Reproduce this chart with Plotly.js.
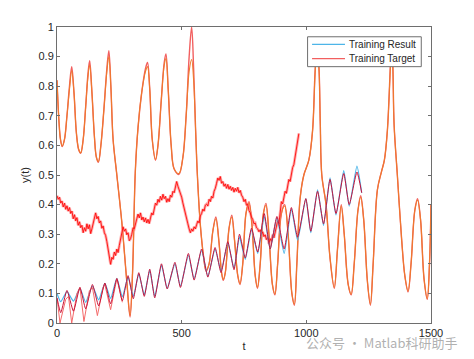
<!DOCTYPE html>
<html>
<head>
<meta charset="utf-8">
<script src="https://cdn.plot.ly/plotly-3.0.1.min.js"></script>
<style>
  html, body { margin: 0; padding: 0; background: #fff; }
  #chart { width: 474px; height: 359px; }
</style>
</head>
<body>
<div id="chart"></div>
<script>
// ---------------- DATA ----------------
const seriesNames = ['Training Result', 'Training Target'];

// Large oscillating series (target and result)
const bigTime = [0,8,14,21,30,40,50,59,68,78,87,95,105,115,124,131,140,150,158,166,176,188,200,208,216,225,240,260,280,293,303,314,325,340,355,363,372,382,395,405,418,430,437,446,458,470,489,505,518,530,540,548,556,563,575,587,598,610,625,637,650,660,667,675,690,701,712,725,734,745,758,770,782,795,804,815,828,838,850,864,874,885,900,913,927,942,952,962,975,990,1010,1025,1035,1043,1051,1056,1062,1079,1095,1112,1125,1140,1152,1168,1180,1192,1207,1218,1230,1245,1257,1268,1285,1301,1313,1325,1337,1342,1347,1352,1365,1382,1395,1408,1420,1435,1446,1458,1472,1485,1494,1500];
const bigTarget = [0.82,0.68,0.62,0.596,0.62,0.70,0.80,0.866,0.78,0.64,0.585,0.573,0.62,0.73,0.84,0.886,0.78,0.63,0.56,0.543,0.60,0.72,0.86,0.92,0.80,0.62,0.50,0.34,0.14,0.02,0.17,0.51,0.66,0.78,0.86,0.88,0.79,0.62,0.55,0.60,0.75,0.88,0.909,0.79,0.60,0.52,0.502,0.56,0.70,0.90,1.0,0.86,0.65,0.50,0.33,0.23,0.175,0.20,0.31,0.358,0.27,0.17,0.144,0.17,0.32,0.364,0.28,0.16,0.13,0.20,0.37,0.41,0.33,0.16,0.117,0.20,0.37,0.404,0.30,0.13,0.095,0.20,0.37,0.40,0.30,0.10,0.06,0.20,0.42,0.50,0.55,0.65,0.85,0.96,0.86,0.67,0.50,0.40,0.22,0.117,0.25,0.40,0.30,0.13,0.095,0.20,0.38,0.43,0.35,0.14,0.06,0.20,0.45,0.51,0.55,0.65,0.87,0.96,0.87,0.67,0.50,0.285,0.16,0.105,0.20,0.38,0.42,0.35,0.15,0.08,0.20,0.40];
const bigResult = [0.82,0.68,0.62,0.598,0.62,0.70,0.79,0.852,0.78,0.64,0.587,0.575,0.62,0.73,0.83,0.872,0.78,0.63,0.56,0.546,0.60,0.72,0.85,0.90,0.80,0.62,0.50,0.34,0.14,0.025,0.17,0.51,0.66,0.78,0.85,0.866,0.79,0.62,0.552,0.60,0.75,0.87,0.893,0.79,0.60,0.52,0.505,0.56,0.70,0.85,0.89,0.82,0.65,0.50,0.33,0.23,0.178,0.20,0.31,0.352,0.27,0.17,0.147,0.17,0.32,0.358,0.28,0.16,0.133,0.20,0.37,0.405,0.33,0.16,0.12,0.20,0.37,0.398,0.30,0.13,0.098,0.20,0.37,0.395,0.30,0.10,0.064,0.20,0.42,0.50,0.55,0.65,0.84,0.93,0.85,0.67,0.50,0.40,0.22,0.12,0.25,0.395,0.30,0.13,0.098,0.20,0.38,0.425,0.35,0.14,0.064,0.20,0.45,0.51,0.55,0.65,0.86,0.93,0.86,0.67,0.50,0.285,0.16,0.108,0.20,0.38,0.415,0.35,0.15,0.083,0.20,0.40];

// Noisy series, sampled every 5 time units from t = 0
const noisyStart = 0;
const noisyStep = 5;
const noisyValues = [0.43,0.418,0.425,0.405,0.412,0.392,0.405,0.384,0.396,0.378,0.39,0.37,0.378,0.352,0.366,0.345,0.356,0.33,0.342,0.322,
0.33,0.305,0.322,0.31,0.335,0.318,0.332,0.302,0.318,0.34,0.36,0.372,0.352,0.36,0.338,0.345,0.32,0.328,0.305,0.296,
0.275,0.252,0.225,0.198,0.222,0.215,0.24,0.228,0.25,0.238,0.262,0.285,0.305,0.325,0.31,0.318,0.298,0.305,0.278,0.285,
0.3,0.322,0.318,0.34,0.352,0.368,0.355,0.372,0.348,0.358,0.342,0.355,0.338,0.35,0.336,0.355,0.372,0.365,0.392,0.405,
0.398,0.418,0.408,0.428,0.415,0.435,0.42,0.428,0.408,0.42,0.41,0.432,0.425,0.445,0.44,0.462,0.478,0.462,0.45,0.438,
0.425,0.405,0.385,0.365,0.348,0.335,0.318,0.305,0.318,0.31,0.325,0.318,0.332,0.345,0.338,0.362,0.37,0.385,0.378,0.398,
0.402,0.395,0.418,0.41,0.428,0.422,0.445,0.455,0.472,0.49,0.482,0.495,0.472,0.478,0.462,0.47,0.455,0.468,0.452,0.462,
0.448,0.458,0.442,0.455,0.445,0.458,0.44,0.448,0.432,0.425,0.41,0.418,0.398,0.402,0.38,0.372,0.358,0.35,0.335,0.338,
0.322,0.318,0.308,0.315,0.3,0.308,0.292,0.298,0.282,0.29,0.268,0.285,0.275,0.298,0.288,0.31,0.322,0.345,0.335,0.385,
0.41,0.402,0.43,0.445,0.438,0.47,0.485,0.478,0.51,0.525,0.535,0.56,0.575,0.61,0.64];

// Lower rising zig-zag series
const lowTime = [0,15,40,66,92,115,142,167,192,215,240,262,285,306,328,350,372,392,419,442,473,495,527,550,580,605,634,658,685,710,732,755,780,805,831,855,882,911,940,965,998,1018,1045,1069,1095,1119,1150,1172,1203,1222];
const lowResult = [0.10,0.072,0.106,0.074,0.117,0.07,0.125,0.078,0.134,0.083,0.151,0.089,0.155,0.09,0.166,0.095,0.178,0.09,0.195,0.118,0.20,0.125,0.228,0.15,0.245,0.158,0.25,0.175,0.27,0.185,0.29,0.215,0.315,0.235,0.36,0.25,0.355,0.235,0.385,0.28,0.42,0.305,0.45,0.33,0.49,0.365,0.515,0.395,0.53,0.44];
const lowTarget = [0.085,0.035,0.11,0.04,0.12,0.048,0.13,0.058,0.135,0.065,0.15,0.075,0.16,0.082,0.17,0.09,0.182,0.085,0.20,0.115,0.205,0.12,0.235,0.145,0.25,0.155,0.255,0.17,0.275,0.18,0.30,0.22,0.32,0.24,0.37,0.25,0.36,0.25,0.39,0.29,0.42,0.31,0.445,0.335,0.485,0.37,0.505,0.40,0.51,0.44];

// Early pale series with deep dips
const altTime = [0,12,35,46,59,80,92,108,130,142,162,185,192,215,240,262];
const altValues = [0.085,0.0,0.08,0.09,0.0,0.10,0.12,0.005,0.11,0.12,0.025,0.12,0.13,0.045,0.15,0.07];

const xTicks = [0, 500, 1000, 1500];
const yTicks = [0, 0.1, 0.2, 0.3, 0.4, 0.5, 0.6, 0.7, 0.8, 0.9, 1];
const yTickText = ['0','0.1','0.2','0.3','0.4','0.5','0.6','0.7','0.8','0.9','1'];

// ---------------- STYLES ----------------
const colResult = '#4DB5E8';
const colTarget = '#F25F5F';
const colOrange = '#EE7A2C';
const fontFam = 'Liberation Sans, Arial, sans-serif';
const axisGray = '#6e6e6e';

// ---------------- TRACES ----------------
const traces = [
  { x: bigTime, y: bigTarget, type: 'scatter', mode: 'lines', name: seriesNames[1],
    line: { color: colTarget, width: 1.4, shape: 'spline' } },
  { x: bigTime, y: bigResult, type: 'scatter', mode: 'lines',
    line: { color: colOrange, width: 1.1, shape: 'spline' } },
  { x0: noisyStart, dx: noisyStep, y: noisyValues, type: 'scatter', mode: 'lines',
    line: { color: 'rgba(255,110,110,0.55)', width: 2.8 } },
  { x0: noisyStart, dx: noisyStep, y: noisyValues, type: 'scatter', mode: 'lines',
    line: { color: '#FF0A0A', width: 0.9 } },
  { x: lowTime, y: lowResult, type: 'scatter', mode: 'lines', name: seriesNames[0],
    line: { color: colResult, width: 1.2, shape: 'spline', smoothing: 0.5 } },
  { x: altTime, y: altValues, type: 'scatter', mode: 'lines',
    line: { color: '#F46A6A', width: 1 } },
  { x: lowTime, y: lowTarget, type: 'scatter', mode: 'lines',
    line: { color: '#C8143A', width: 1, shape: 'spline', smoothing: 0.5 } }
];

const axisCommon = {
  showgrid: false, zeroline: false, showline: true, mirror: 'ticks',
  linecolor: axisGray, linewidth: 1, ticks: 'inside', ticklen: 3, tickcolor: axisGray,
  tickfont: { family: fontFam, size: 11, color: '#262626' }
};

// Legend box drawn in paper coordinates (MATLAB-style compact legend)
const lgX0 = 0.670, lgX1 = 0.974, lgY0 = 0.866, lgY1 = 0.967;
const lgLineX0 = 0.682, lgLineX1 = 0.770, lgTextX = 0.776;
const lgRowY = [0.941, 0.893];
const lgColors = [colResult, colTarget];

const shapes = [
  { type: 'rect', xref: 'paper', yref: 'paper', x0: lgX0, x1: lgX1, y0: lgY0, y1: lgY1,
    fillcolor: '#ffffff', line: { color: axisGray, width: 1 }, layer: 'above' }
];
const annotations = [];
seriesNames.forEach((nm, i) => {
  shapes.push({ type: 'line', xref: 'paper', yref: 'paper', x0: lgLineX0, x1: lgLineX1,
    y0: lgRowY[i], y1: lgRowY[i], line: { color: lgColors[i], width: 1.2 }, layer: 'above' });
  annotations.push({ text: nm, xref: 'paper', yref: 'paper', x: lgTextX, y: lgRowY[i],
    xanchor: 'left', yanchor: 'middle', showarrow: false,
    font: { family: fontFam, size: 10, color: '#262626' } });
});
annotations.push({ text: '公众号 · Matlab科研助手', xref: 'paper', yref: 'paper',
  x: 1.075, y: -0.065, xanchor: 'right', yanchor: 'middle', showarrow: false,
  font: { family: 'Noto Sans CJK SC, sans-serif', size: 13, color: 'rgba(150,150,150,0.75)' } });

const layout = {
  width: 474, height: 359,
  margin: { l: 57, r: 43, t: 27, b: 36 },
  paper_bgcolor: '#ffffff', plot_bgcolor: '#ffffff',
  showlegend: false,
  xaxis: Object.assign({}, axisCommon, {
    range: [0, 1500], tickvals: xTicks, ticktext: xTicks.map(String),
    title: { text: 't', standoff: 4, font: { family: fontFam, size: 11, color: '#262626' } }
  }),
  yaxis: Object.assign({}, axisCommon, {
    range: [0, 1], tickvals: yTicks, ticktext: yTickText,
    title: { text: 'y(t)', standoff: 6, font: { family: fontFam, size: 11, color: '#262626' } }
  }),
  shapes: shapes,
  annotations: annotations
};

Plotly.newPlot('chart', traces, layout, { staticPlot: true, displayModeBar: false });
</script>
</body>
</html>
